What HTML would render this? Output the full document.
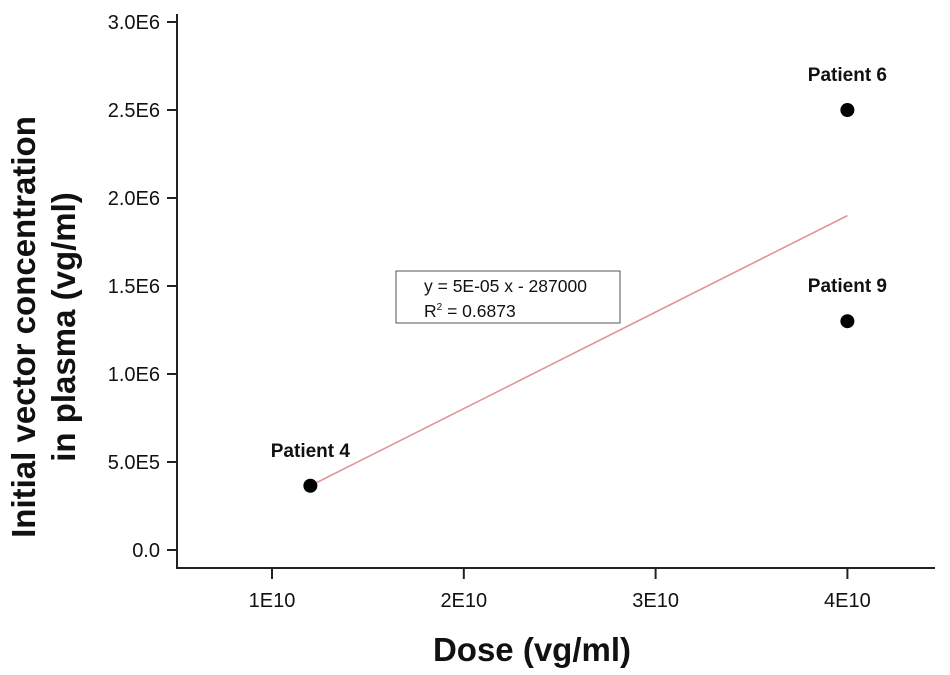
<!DOCTYPE html>
<html><head><meta charset="utf-8"><style>
body{margin:0;background:#fff}
svg text{font-family:"Liberation Sans",Arial,sans-serif}
</style></head><body>
<svg id="chart" width="950" height="670" viewBox="0 0 950 670">
<g id="axes"></g><g id="marks"></g>
<rect x="396" y="271" width="224" height="52" fill="#fff" stroke="#555" stroke-width="1"/>
<text x="424" y="292" font-size="17.5" fill="#111">y = 5E-05 x - 287000</text>
<text x="424" y="317" font-size="17.5" fill="#111">R<tspan font-size="10" dy="-7">2</tspan><tspan dy="7"> = 0.6873</tspan></text>
<text x="532" y="661" font-size="33" font-weight="bold" text-anchor="middle" fill="#111">Dose (vg/ml)</text>
<text transform="translate(35,327) rotate(-90)" font-size="33" font-weight="bold" text-anchor="middle" fill="#111">Initial vector concentration</text>
<text transform="translate(75,327) rotate(-90)" font-size="33" font-weight="bold" text-anchor="middle" fill="#111">in plasma (vg/ml)</text>
</svg>
<script>
const patients=["Patient 4","Patient 6","Patient 9"];
const doseValues=[1.2e10,4e10,4e10];
const concValues=[3.65e5,2.5e6,1.3e6];
const xTicks=[1e10,2e10,3e10,4e10];
const xTickLabels=["1E10","2E10","3E10","4E10"];
const yTicks=[0,5e5,1e6,1.5e6,2e6,2.5e6,3e6];
const yTickLabels=["0.0","5.0E5","1.0E6","1.5E6","2.0E6","2.5E6","3.0E6"];
const NS="http://www.w3.org/2000/svg";
const sx=v=>272+(v-1e10)/1e10*191.8;
const sy=v=>550-v/1e6*176;
function mk(tag,at,parent){const e=document.createElementNS(NS,tag);for(const k in at)e.setAttribute(k,at[k]);parent.appendChild(e);return e;}
const ax=document.getElementById('axes'),mg=document.getElementById('marks');
let yl=mk('line',{x1:177,y1:14,x2:177,y2:569,stroke:'#222','stroke-width':2},ax);


let xl=mk('line',{x1:176,y1:568,x2:935,y2:568,stroke:'#222','stroke-width':2},ax);


yTicks.forEach((t,i)=>{const y=sy(t);
 let l=mk('line',{x1:167,y1:y,x2:177,y2:y,stroke:'#222','stroke-width':2},ax);
 
 
 let tx=mk('text',{x:160,y:y+7,'font-size':20,'text-anchor':'end',fill:'#111'},ax);tx.textContent=yTickLabels[i];
 
 });
xTicks.forEach((t,i)=>{const x=sx(t);
 let l=mk('line',{x1:x,y1:568,x2:x,y2:579,stroke:'#222','stroke-width':2},ax);
 
 
 let tx=mk('text',{x:x,y:607,'font-size':20,'text-anchor':'middle',fill:'#111'},ax);tx.textContent=xTickLabels[i];
 
 });
const n=doseValues.length;const mx=doseValues.reduce((a,b)=>a+b)/n,my=concValues.reduce((a,b)=>a+b)/n;
let sxx=0,sxy=0;doseValues.forEach((x,i)=>{sxx+=(x-mx)**2;sxy+=(x-mx)*(concValues[i]-my);});
const slope=sxy/sxx,icpt=my-slope*mx;
const x0=Math.min(...doseValues),x1=Math.max(...doseValues);
let rl=mk('line',{x1:sx(x0),y1:sy(slope*x0+icpt),x2:sx(x1),y2:sy(slope*x1+icpt),stroke:'#e0959b','stroke-width':1.6},mg);


patients.forEach((p,i)=>{const x=sx(doseValues[i]),y=sy(concValues[i]);
 let c=mk('circle',{cx:x,cy:y,r:7,fill:'#000'},mg);
 
 
 let t=mk('text',{x:x,y:y-29,'font-size':19,'font-weight':'bold','text-anchor':'middle',fill:'#111'},mg);t.textContent=p;
 
 });
</script>
</body></html>
